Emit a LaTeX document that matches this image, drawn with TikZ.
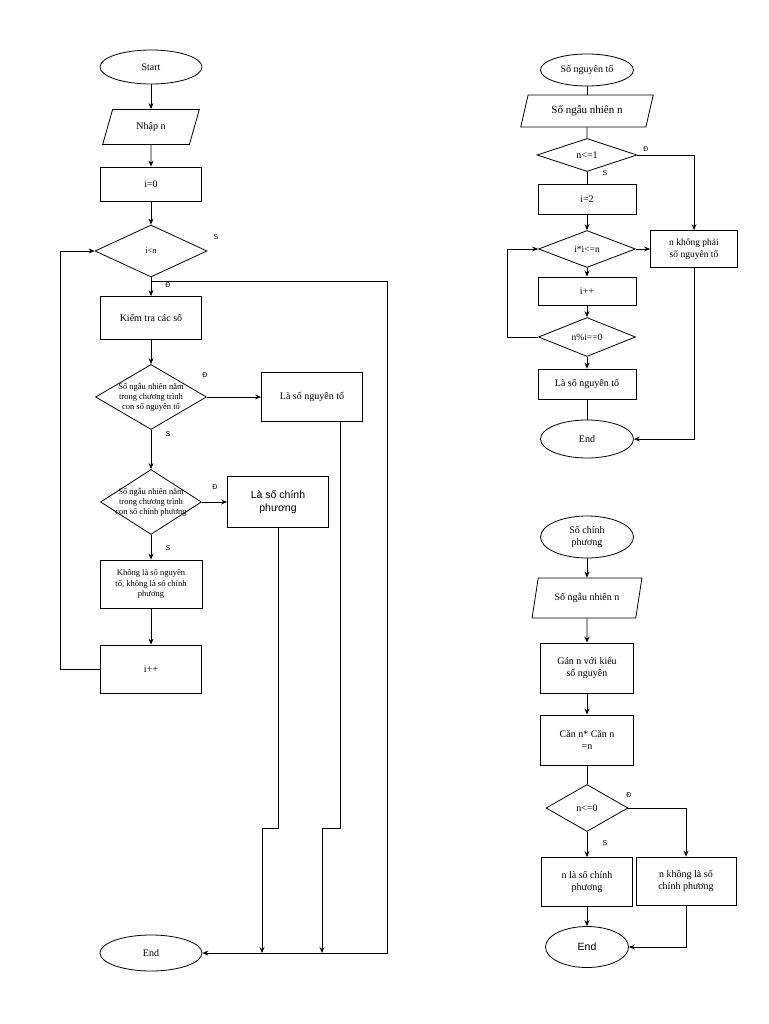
\documentclass[tikz,border=0pt]{standalone}
\usepackage{fontspec}
\setmainfont{Liberation Serif}
\newfontfamily\sansf{Liberation Sans}
\usetikzlibrary{shapes.geometric,arrows.meta}
\begin{document}
\begin{tikzpicture}[x=1pt,y=-1pt,line width=0.8pt,>={Stealth[length=6pt,width=5pt]},
 base/.style={draw,inner sep=1pt,align=center,font=\fontsize{10}{12}\selectfont},
 ell/.style={base,ellipse},
 box/.style={base,rectangle},
 io/.style={base,trapezium,trapezium left angle=70,trapezium right angle=110,trapezium stretches=true},
 dia/.style={draw,diamond,inner sep=0pt},
 dt/.style={align=center,inner sep=0pt,font=\fontsize{8.5}{10}\selectfont},
 lab/.style={font=\sansf\fontsize{7}{8}\selectfont,inner sep=0pt}]
\useasboundingbox (0,0) rectangle (768,1024);
% ---------- main flow ----------
\node[ell,minimum width=102pt,minimum height=34pt] (st) at (151,67) {Start};
\node[io,minimum width=97pt,minimum height=35pt] (in) at (151,127) {Nhập n};
\node[box,minimum width=101pt,minimum height=34pt] (i0) at (151,184) {i=0};
\node[dia,minimum width=112pt,minimum height=52pt] (c) at (151,251) {};
\node[dt] at (c) {i<n};
\node[box,minimum width=101pt,minimum height=43pt] (k) at (151,318) {Kiểm tra các số};
\node[dia,minimum width=111pt,minimum height=65pt] (d1) at (151,397) {};
\node[dt] at (d1) {Số ngẫu nhiên nằm\\trong chương trình\\con số nguyên tố};
\node[box,minimum width=101pt,minimum height=49pt] (p1) at (312,397) {Là số nguyên tố};
\node[dia,minimum width=101pt,minimum height=65pt] (d2) at (151,502) {};
\node[dt] at (d2) {Số ngẫu nhiên nằm\\trong chương trình\\con số chính phương};
\node[box,minimum width=101pt,minimum height=51pt,font=\sansf\fontsize{10.5}{13}\selectfont] (p2) at (278,502) {Là số chính\\phương};
\node[box,minimum width=102pt,minimum height=48pt,font=\fontsize{8.5}{10.5}\selectfont] (no) at (151,584) {Không là số nguyên\\tố, không là số chính\\phương};
\node[box,minimum width=101pt,minimum height=48pt] (inc) at (151,669) {i++};
\node[ell,minimum width=102pt,minimum height=36pt] (end) at (151,953) {End};
\draw[->] (st) -- (in);
\draw[->] (in) -- (i0);
\draw[->] (i0) -- (c);
\draw[->] (c) -- (k);
\draw[->] (k) -- (d1);
\draw[->] (d1) -- (p1);
\draw[->] (d1) -- (d2);
\draw[->] (d2) -- (p2);
\draw[->] (d2) -- (no);
\draw[->] (no) -- (inc);
\draw[->] (inc.west) -- (60,669) -- (60,251) -- (c.west);
\coordinate (dj) at (151,281);
\draw[->] (dj) -- (387,281) -- (387,953) -- (end.east);
\draw[->] (p1.south -| 340,0) -- (340,828) -- (322,828) -- (322,953);
\draw[->] (p2.south) -- (278,828) -- (262,828) -- (262,953);
\node[lab] at (216,237) {S};
\node[lab] at (168,285) {Đ};
\node[lab] at (205,375) {Đ};
\node[lab] at (168,434) {S};
\node[lab] at (215,487) {Đ};
\node[lab] at (168,548) {S};
% ---------- prime ----------
\node[ell,minimum width=93pt,minimum height=32pt] (ps) at (587,70) {Số nguyên tố};
\node[io,minimum width=133pt,minimum height=32pt,font=\fontsize{11}{13}\selectfont] (pin) at (587,111) {Số ngẫu nhiên n};
\node[dia,minimum width=100pt,minimum height=33pt] (pc) at (587,155) {};
\node[dt,font=\fontsize{10}{12}\selectfont] at (pc) {n<=1};
\node[box,minimum width=98pt,minimum height=30pt] (pi2) at (587,199) {i=2};
\node[dia,minimum width=97pt,minimum height=37pt] (pl) at (587,249) {};
\node[dt,font=\fontsize{9.5}{11}\selectfont] at (pl) {i*i<=n};
\node[box,minimum width=87pt,minimum height=37pt,font=\fontsize{9.5}{12}\selectfont] (pnp) at (694,249) {n không phải\\số nguyên tố};
\node[box,minimum width=98pt,minimum height=28pt] (pinc) at (587,291) {i++};
\node[dia,minimum width=97pt,minimum height=39pt] (pm) at (587,337) {};
\node[dt,font=\fontsize{9.5}{11}\selectfont] at (pm) {n\%i==0};
\node[box,minimum width=98pt,minimum height=30pt] (pyes) at (587,384) {Là số nguyên tố};
\node[ell,minimum width=93pt,minimum height=38pt] (pend) at (587,439) {End};
\draw (ps) -- (pin);
\draw (pin) -- (pc);
\draw (pc) -- (pi2);
\draw[->] (pi2) -- (pl);
\draw[->] (pc.east) -- (694,155) -- (pnp.north);
\draw[->] (pl) -- (pnp);
\draw[->] (pl) -- (pinc);
\draw[->] (pinc) -- (pm);
\draw[->] (pm.west) -- (507,337) -- (507,249) -- (pl.west);
\draw[->] (pm) -- (pyes);
\draw (pyes) -- (pend);
\draw[->] (pnp.south) -- (694,439) -- (pend.east);
\node[lab] at (646,149) {Đ};
\node[lab] at (605,173) {S};
% ---------- square ----------
\node[ell,minimum width=93pt,minimum height=42pt] (ss) at (587,537) {Số chính\\phương};
\node[io,minimum width=110pt,minimum height=40pt] (sin) at (587,598) {Số ngẫu nhiên n};
\node[box,minimum width=93pt,minimum height=50pt] (sg) at (587,668) {Gán n với kiểu\\số nguyên};
\node[box,minimum width=93pt,minimum height=50pt] (sc) at (587,740) {Căn n* Căn n\\=n};
\node[dia,minimum width=82pt,minimum height=47pt] (sd) at (587,808) {};
\node[dt,font=\fontsize{10}{12}\selectfont] at (sd) {n<=0};
\node[box,minimum width=91pt,minimum height=49pt] (sy) at (587,882) {n là số chính\\phương};
\node[box,minimum width=100pt,minimum height=48pt] (sn) at (686,881) {n không là số\\chính phương};
\node[ell,minimum width=83pt,minimum height=41pt,font=\sansf\fontsize{10.5}{12}\selectfont] (se) at (587,947) {End};
\draw[->] (ss) -- (sin);
\draw[->] (sin) -- (sg);
\draw[->] (sg) -- (sc);
\draw (sc) -- (sd);
\draw[->] (sd) -- (sy);
\draw[->] (sd.east) -- (686,808) -- (sn.north);
\draw[->] (sy) -- (se);
\draw[->] (sn.south) -- (686,947) -- (se.east);
\node[lab] at (629,795) {Đ};
\node[lab] at (605,843) {S};
\end{tikzpicture}
\end{document}
